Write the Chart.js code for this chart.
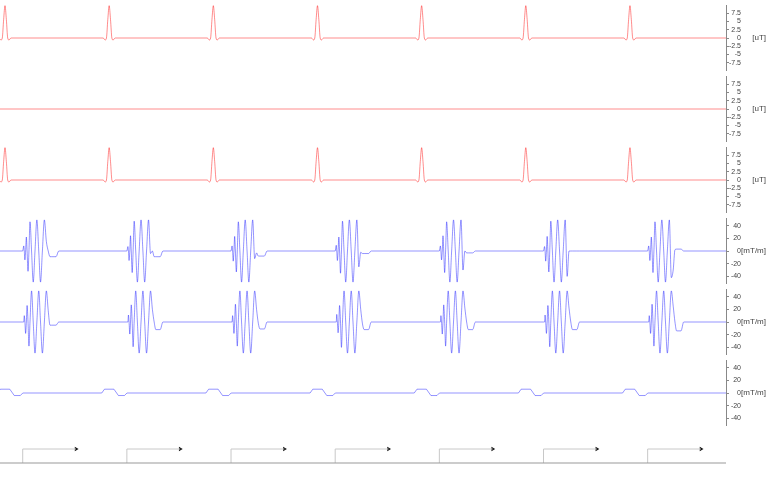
<!DOCTYPE html>
<html lang="en">
<head>
<meta charset="UTF-8" />
<title>Spiral sequence diagram</title>
<script src="https://cdn.jsdelivr.net/npm/chart.js@4"></script>
<style>
  html, body { margin: 0; padding: 0; background: #fff; }
  #wrap { position: relative; width: 768px; height: 480px; overflow: hidden; }
  #wrap canvas { position: absolute; left: 0; }
</style>
</head>
<body>
<div id="wrap"></div>
<script>
// time axis, ms (TR = 10 ms)
const tEnd = 69.7;
const rfPeaks = [0.48, 10.48, 20.48, 30.48, 40.48, 50.48, 60.48];
const adcStarts = [2.18, 12.18, 22.18, 32.18, 42.18, 52.18, 62.18];
const adcLength = 5.12;

// sinc RF pulse, times relative to the peak
const rfT = [-0.58, -0.38, -0.26, -0.13, 0, 0.13, 0.26, 0.38, 0.58];
const rfB1 = [0, -0.6, 0, 5.6, 9.8, 5.6, 0, -0.6, 0];

// slice select + rephaser, times relative to the RF peak
const sliceT = [-0.71, -0.45, 0.46, 0.89, 1.47, 1.71];
const sliceG = [0, 6, 6, -4, -4, 0];

// spiral readout samples, times relative to adc start
const gradT = [0, 0.10, 0.15, 0.21, 0.28, 0.35, 0.42, 0.51, 0.60, 0.70, 0.85, 1.01,
               1.18, 1.36, 1.54, 1.71, 1.89, 2.08, 2.27, 2.45, 2.62, 2.78, 3.20, 3.46];
const gx1 = [0, 8, 0, -14, 0, 22, 0, -32, 0, 46, 0, -49, 0, 49, 0, -49, 0, 49, 15, 0, -9, -9, -9, 0];
const gx2 = [0, 7, 0, -15, 0, 24, 0, -34, 0, 47, 0, -49, 0, 49, 0, -49, 0, 49, -4, 0, -9, -9, -9, 0];
const gx3 = [0, 8, 0, -16, 0, 23, 0, -33, 0, 46, 0, -49, 0, 49, 0, -49, 0, 49, -12, -3, -8, -8, -8, 0];
const gx4 = [0, 9, 0, -15, 0, 22, 0, -35, 0, 47, 0, -49, 0, 49, 0, -49, 0, 49, -25, -2, -4, -4, -4, 0];
const gx5 = [0, 8, 0, -14, 0, 24, 0, -34, 0, 46, 0, -49, 0, 49, 0, -49, 0, 49, -30, 0, -3, -3, -3, 0];
const gx6 = [0, 7, 0, -16, 0, 23, 0, -33, 0, 47, 0, -49, 0, 49, 0, -49, 0, 49, -40, 0, 0, 0, 0, 0];
const gx7 = [0, 8, 0, -15, 0, 22, 0, -34, 0, 46, 0, -49, 0, 49, 0, -49, 0, 49, -42, -30, 2, 3, 3, 0];
const gy1 = [0, 0, 10, 0, -18, 0, 26, 0, -38, 0, 49, 0, -49, 0, 49, 0, -49, 0, 49, 18, -5, -5, -5, 0];
const gy2 = [0, 0, 11, 0, -19, 0, 27, 0, -39, 0, 49, 0, -49, 0, 49, 0, -49, 0, 49, 20, 0, -12, -12, 0];
const gy3 = [0, 0, 10, 0, -18, 0, 28, 0, -38, 0, 49, 0, -49, 0, 49, 0, -49, 0, 49, 20, -2, -11, -11, 0];
const gy4 = [0, 0, 12, 0, -17, 0, 26, 0, -40, 0, 49, 0, -49, 0, 49, 0, -49, 0, 49, 20, -3, -12, -12, 0];
const gy5 = [0, 0, 10, 0, -19, 0, 27, 0, -38, 0, 49, 0, -49, 0, 49, 0, -49, 0, 49, 22, 0, -12, -12, 0];
const gy6 = [0, 0, 11, 0, -18, 0, 26, 0, -39, 0, 49, 0, -49, 0, 49, 0, -49, 0, 49, 22, 0, -12, -12, 0];
const gy7 = [0, 0, 10, 0, -18, 0, 28, 0, -38, 0, 49, 0, -49, 0, 49, 0, -49, 0, 49, 25, 0, -14, -14, 0];

const rfTicks = [-7.5, -5, -2.5, 0, 2.5, 5, 7.5];
const gradTicks = [-40, -20, 0, 20, 40];

const RED = "rgba(255,0,0,0.45)";
const BLUE = "rgba(0,0,255,0.42)";
const FONT = "'Liberation Sans', Arial, sans-serif";

Chart.defaults.font.family = FONT;

// --- build point lists ---
function shapeTrain(centers, relT, vals) {
  const pts = [];
  centers.forEach(c => relT.forEach((t, i) => pts.push({ x: c + t, y: vals[i] })));
  pts.push({ x: tEnd, y: 0 });
  return pts;
}

function readout(bursts) {
  const pts = [{ x: 0, y: 0 }];
  bursts.forEach((vals, k) => {
    gradT.forEach((t, i) => pts.push({ x: adcStarts[k] + t, y: vals[i] }));
  });
  pts.push({ x: tEnd, y: 0 });
  return pts;
}

// unit text at the zero line, right of the tick labels
const unitLabel = {
  id: "unitLabel",
  afterDraw(chart, args, opts) {
    if (!opts.text) return;
    const y = chart.scales.y.getPixelForValue(0);
    const ctx = chart.ctx;
    ctx.save();
    ctx.font = "8px " + FONT;
    ctx.fillStyle = "#444";
    ctx.textAlign = "right";
    ctx.textBaseline = "middle";
    ctx.fillText(opts.text, 766, y);
    ctx.restore();
  }
};

function panel(top, height, datasets, yOpts, unit) {
  const cv = document.createElement("canvas");
  cv.width = 768;
  cv.height = height;
  cv.style.top = top + "px";
  document.getElementById("wrap").appendChild(cv);

  const showAxis = !!yOpts.ticks;
  return new Chart(cv, {
    type: "line",
    data: { datasets },
    plugins: [unitLabel],
    options: {
      responsive: false,
      animation: false,
      devicePixelRatio: 1,
      layout: { autoPadding: false, padding: { left: 0, top: 0, bottom: 0, right: 27 } },
      plugins: { legend: { display: false }, tooltip: { enabled: false }, unitLabel: { text: unit } },
      elements: { point: { radius: 0 } },
      scales: {
        x: { type: "linear", min: 0, max: tEnd, display: false },
        y: {
          position: "right",
          min: yOpts.min,
          max: yOpts.max,
          display: showAxis,
          afterFit: s => { s.width = 15; s.paddingTop = 0; s.paddingBottom = 0; },
          afterBuildTicks: s => { if (showAxis) s.ticks = yOpts.ticks.map(v => ({ value: v })); },
          border: { display: true, color: "#888" },
          grid: { drawOnChartArea: false, tickLength: 3, color: "#888" },
          ticks: {
            color: "#444",
            autoSkip: false,
            padding: 1,
            crossAlign: "far",
            font: { size: 7 },
            callback: v => String(v)
          }
        }
      }
    }
  });
}

function lineSet(pts, color) {
  return { data: pts, borderColor: color, borderWidth: 1, cubicInterpolationMode: "monotone", fill: false };
}

const rfAxis = { min: -10, max: 10, ticks: rfTicks };
const gAxis = { min: -52, max: 52, ticks: gradTicks };

// RF channel 1
panel(5, 66, [lineSet(shapeTrain(rfPeaks, rfT, rfB1), RED)], rfAxis, "[uT]");
// RF channel 2 (off)
panel(76, 66, [lineSet([{ x: 0, y: 0 }, { x: tEnd, y: 0 }], RED)], rfAxis, "[uT]");
// RF channel 3
panel(147, 66, [lineSet(shapeTrain(rfPeaks, rfT, rfB1), RED)], rfAxis, "[uT]");

// gradients
panel(218, 66, [lineSet(readout([gx1, gx2, gx3, gx4, gx5, gx6, gx7]), BLUE)], gAxis, "[mT/m]");
panel(289, 66, [lineSet(readout([gy1, gy2, gy3, gy4, gy5, gy6, gy7]), BLUE)], gAxis, "[mT/m]");
const slicePts = shapeTrain(rfPeaks, sliceT, sliceG);
panel(360, 66, [{ data: slicePts, borderColor: BLUE, borderWidth: 1, fill: false }], gAxis, "[mT/m]");

// ADC windows
const adcLines = [];
adcStarts.forEach(s => {
  adcLines.push({ x: s, y: 0 }, { x: s, y: 1 }, { x: s + adcLength, y: 1 }, { x: s + adcLength, y: null });
});
panel(442, 28, [
  { data: [{ x: 0, y: 0 }, { x: tEnd, y: 0 }], borderColor: "#999", borderWidth: 1 },
  { data: adcLines, borderColor: "#c8c8c8", borderWidth: 1, spanGaps: false },
  {
    data: adcStarts.map(s => ({ x: s + adcLength, y: 1 })),
    showLine: false,
    pointStyle: "triangle",
    rotation: 90,
    pointRadius: 2.5,
    pointBackgroundColor: "#111",
    pointBorderColor: "#111",
    pointBorderWidth: 0
  }
], { min: -0.5, max: 1.5 }, "");
</script>
</body>
</html>
